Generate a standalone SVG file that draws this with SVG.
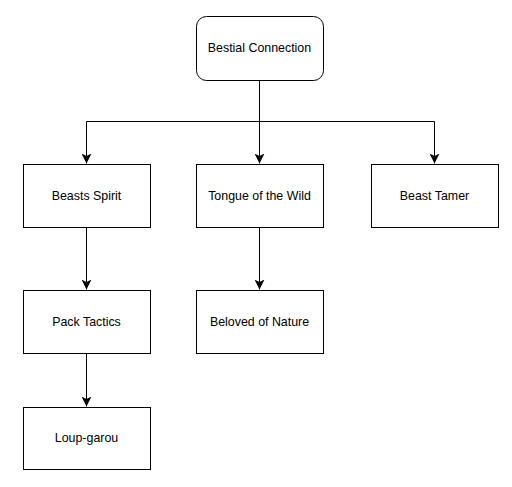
<svg xmlns="http://www.w3.org/2000/svg" width="512" height="487" viewBox="0 0 512 487">
<style>
.box{fill:#ffffff;stroke:#000000;stroke-width:1}
.lbl{font-family:"Liberation Sans",Arial,sans-serif;font-size:12.4px;fill:#000000;text-anchor:middle;dominant-baseline:central}
.edge{fill:none;stroke:#000000;stroke-width:1}
</style>
<defs>
<marker id="arr" viewBox="0 0 10 10" refX="10" refY="5" markerWidth="10" markerHeight="10" markerUnits="userSpaceOnUse" orient="auto">
<path d="M0,0 L10,5 L0,10 L2.5,5 Z" fill="#000000"/>
</marker>
</defs>
<rect width="512" height="487" fill="#ffffff"/>
<g id="connectors">
<path class="edge" d="M259.5,80.5 V121.5 H86.5 V163.5" marker-end="url(#arr)"/>
<path class="edge" d="M259.5,80.5 V163.5" marker-end="url(#arr)"/>
<path class="edge" d="M259.5,121.5 H434.5 V163.5" marker-end="url(#arr)"/>
<path class="edge" d="M86.5,227.5 V289.5" marker-end="url(#arr)"/>
<path class="edge" d="M259.5,227.5 V289.5" marker-end="url(#arr)"/>
<path class="edge" d="M86.5,353.5 V406.5" marker-end="url(#arr)"/>
</g>
<g id="n-root"><rect class="box" x="196.5" y="16.5" width="127" height="64" rx="10" ry="10"/><text class="lbl" x="259.5" y="47.5">Bestial Connection</text></g>
<g id="n-beasts-spirit"><rect class="box" x="23.5" y="164.5" width="127" height="63"/><text class="lbl" x="86.5" y="195.5">Beasts Spirit</text></g>
<g id="n-tongue"><rect class="box" x="196.5" y="164.5" width="127" height="63"/><text class="lbl" x="259.5" y="195.5">Tongue of the Wild</text></g>
<g id="n-beast-tamer"><rect class="box" x="371.5" y="164.5" width="127" height="63"/><text class="lbl" x="434.5" y="195.5">Beast Tamer</text></g>
<g id="n-pack"><rect class="box" x="23.5" y="290.5" width="127" height="63"/><text class="lbl" x="86.5" y="321.5">Pack Tactics</text></g>
<g id="n-beloved"><rect class="box" x="196.5" y="290.5" width="127" height="63"/><text class="lbl" x="259.5" y="321.5">Beloved of Nature</text></g>
<g id="n-loup"><rect class="box" x="23.5" y="407.5" width="127" height="62"/><text class="lbl" x="86.5" y="438">Loup-garou</text></g>
</svg>
